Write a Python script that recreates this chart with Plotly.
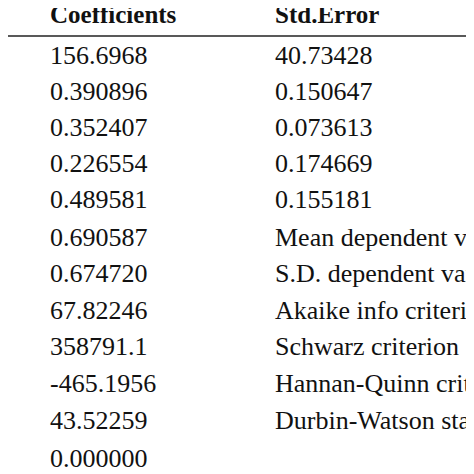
import plotly.graph_objects as go

# table contents
headers = ["Coefficients", "Std.Error", "t-Statistic"]
coefficients = ["156.6968", "0.390896", "0.352407", "0.226554", "0.489581",
                "0.690587", "0.674720", "67.82246", "358791.1", "-465.1956",
                "43.52259", "0.000000"]
std_error = ["40.73428", "0.150647", "0.073613", "0.174669", "0.155181",
             "Mean dependent var", "S.D. dependent var", "Akaike info criterion",
             "Schwarz criterion", "Hannan-Quinn criter.", "Durbin-Watson stat", ""]
t_stat = ["3.846779", "2.594781", "4.787288", "", "3.154903",
          "", "", "", "", "", "", ""]

row_y = [55, 91, 127, 163, 199, 237, 273, 310, 346, 383, 420, 458]
col_x = [50, 275, 466]
font = "Liberation Serif"

fig = go.Figure()
# header
fig.add_trace(go.Scatter(
    x=col_x[:2], y=[15, 15], mode="text",
    text=["<b>%s</b>" % h for h in headers[:2]], textposition="middle right",
    textfont=dict(family=font, size=25, color="#111"), cliponaxis=True))
fig.add_trace(go.Scatter(
    x=[col_x[2]], y=[15], mode="text", text=[headers[2]],
    textposition="middle right",
    textfont=dict(family=font, size=15, color="#111"), cliponaxis=True))
# body
for cx, col in zip(col_x, [coefficients, std_error, t_stat]):
    fig.add_trace(go.Scatter(
        x=[cx] * len(col), y=row_y, mode="text", text=col,
        textposition="middle right",
        textfont=dict(family=font, size=26, color="#111"), cliponaxis=True))

fig.add_shape(type="line", x0=0, x1=490, y0=34, y1=34,
              line=dict(color="#222", width=1.5))

fig.update_layout(
    width=474, height=474, margin=dict(l=0, r=0, t=0, b=0),
    plot_bgcolor="white", paper_bgcolor="white", showlegend=False,
    xaxis=dict(range=[8, 482], visible=False, fixedrange=True),
    yaxis=dict(range=[480, 6], visible=False, fixedrange=True))

fig.write_html("out.html")
